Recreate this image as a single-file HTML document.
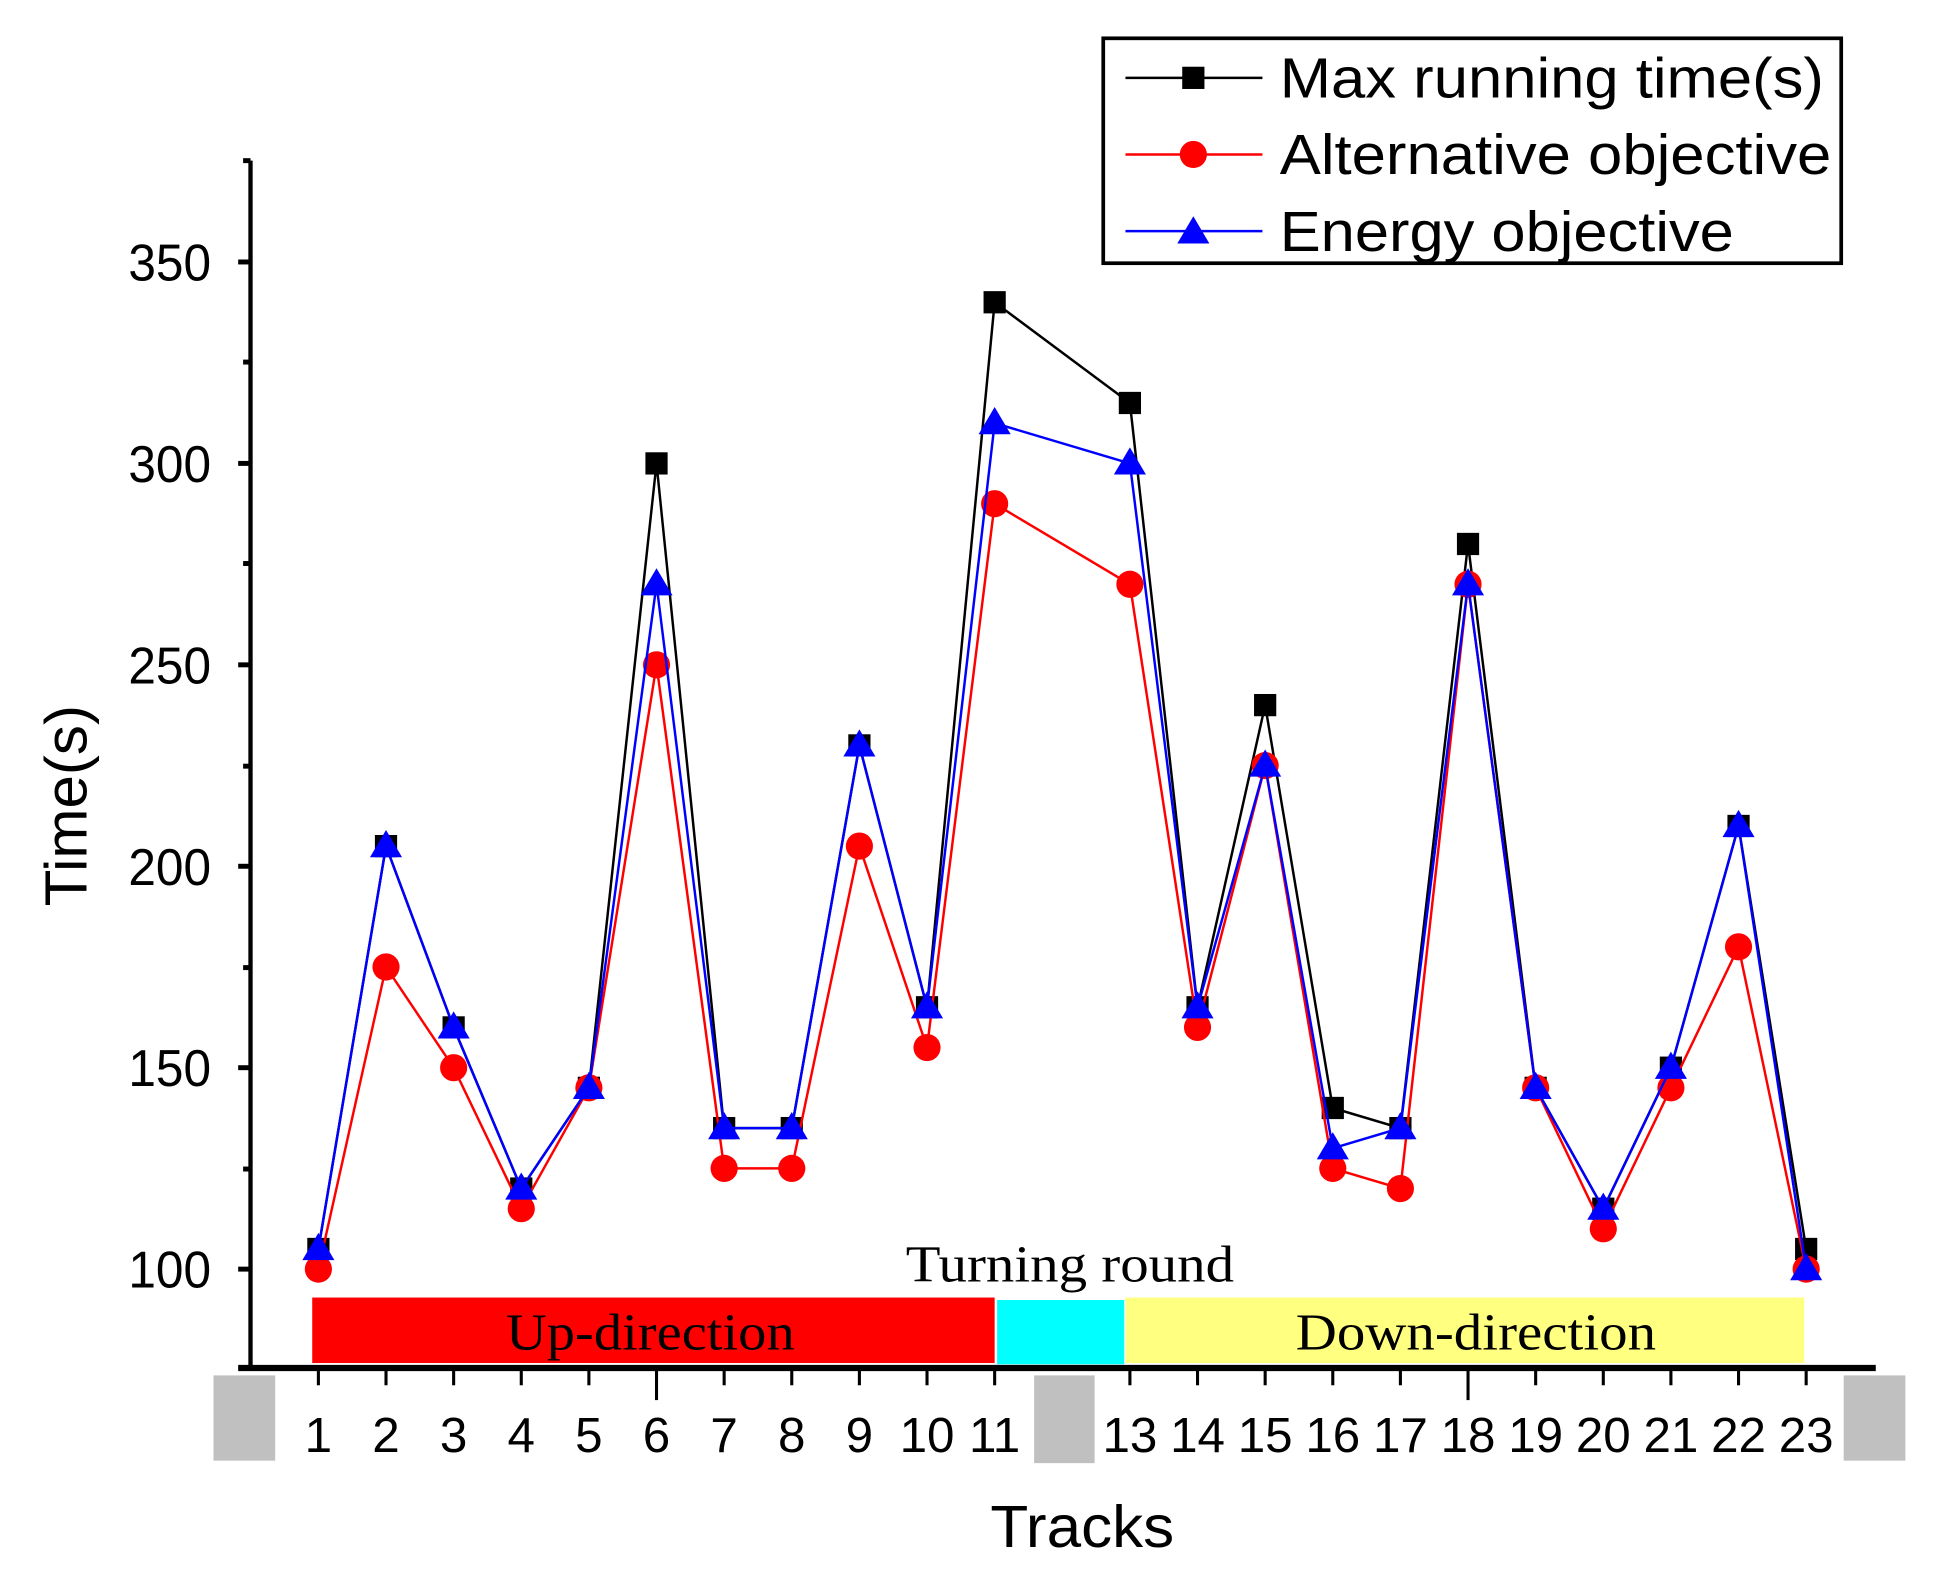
<!DOCTYPE html>
<html><head><meta charset="utf-8"><style>html,body{margin:0;padding:0;background:#fff}svg{display:block}</style></head>
<body>
<svg width="1935" height="1583" viewBox="0 0 1568 1281" preserveAspectRatio="none" xmlns="http://www.w3.org/2000/svg" font-family="Liberation Sans, sans-serif">
<rect width="1568" height="1281" fill="#fff"/>
<rect x="253" y="1050" width="553" height="53" fill="#ff0000"/>
<rect x="808" y="1052" width="103" height="52" fill="#00ffff"/>
<rect x="912" y="1050" width="550" height="53" fill="#ffff80"/>
<text x="527" y="1092" font-family="Liberation Serif, serif" font-size="42" text-anchor="middle" textLength="234" lengthAdjust="spacingAndGlyphs">Up-direction</text>
<text x="1196" y="1092" font-family="Liberation Serif, serif" font-size="42" text-anchor="middle" textLength="292" lengthAdjust="spacingAndGlyphs">Down-direction</text>
<text x="867" y="1037" font-family="Liberation Serif, serif" font-size="42" text-anchor="middle" textLength="266" lengthAdjust="spacingAndGlyphs">Turning round</text>
<rect x="173" y="1113" width="50" height="69" fill="#c0c0c0"/>
<rect x="838" y="1113" width="49" height="71" fill="#c0c0c0"/>
<rect x="1494" y="1113" width="50" height="69" fill="#c0c0c0"/>
<line x1="203" y1="130" x2="203" y2="1108" stroke="#000" stroke-width="3.5"/>
<line x1="193" y1="1107" x2="1520" y2="1107" stroke="#000" stroke-width="5"/>
<g stroke="#000" stroke-width="4">
<line x1="193" y1="212" x2="203" y2="212"/><line x1="193" y1="375" x2="203" y2="375"/><line x1="193" y1="538" x2="203" y2="538"/><line x1="193" y1="701" x2="203" y2="701"/><line x1="193" y1="864" x2="203" y2="864"/><line x1="193" y1="1027" x2="203" y2="1027"/>
<line x1="197" y1="130" x2="203" y2="130"/><line x1="197" y1="293" x2="203" y2="293"/><line x1="197" y1="456" x2="203" y2="456"/><line x1="197" y1="620" x2="203" y2="620"/><line x1="197" y1="783" x2="203" y2="783"/><line x1="197" y1="946" x2="203" y2="946"/>
</g>
<g font-size="42" text-anchor="end">
<text x="171" y="227" textLength="67" lengthAdjust="spacingAndGlyphs">350</text><text x="171" y="390" textLength="67" lengthAdjust="spacingAndGlyphs">300</text><text x="171" y="553" textLength="67" lengthAdjust="spacingAndGlyphs">250</text><text x="171" y="716" textLength="67" lengthAdjust="spacingAndGlyphs">200</text><text x="171" y="879" textLength="67" lengthAdjust="spacingAndGlyphs">150</text><text x="171" y="1042" textLength="67" lengthAdjust="spacingAndGlyphs">100</text>
</g>
<g id="xt" stroke="#000" stroke-width="2.5"></g>
<g id="xl" font-size="40" text-anchor="middle"></g>
<text transform="translate(70,652) rotate(-90)" font-size="48" text-anchor="middle" textLength="163" lengthAdjust="spacingAndGlyphs">Time(s)</text>
<text x="877" y="1252" font-size="48" text-anchor="middle" textLength="149" lengthAdjust="spacingAndGlyphs">Tracks</text>
<g id="series"></g>
<rect x="894" y="31" width="598" height="182" fill="#fff" stroke="#000" stroke-width="3"/>
<line x1="912" y1="63" x2="1023" y2="63" stroke="#000" stroke-width="2"/>
<rect x="958" y="54" width="18" height="18" fill="#000"/>
<line x1="912" y1="125" x2="1023" y2="125" stroke="#f00" stroke-width="2"/>
<circle cx="967" cy="125" r="11" fill="#f00"/>
<line x1="912" y1="187" x2="1023" y2="187" stroke="#00f" stroke-width="2"/>
<polygon points="967,175 954,197 980,197" fill="#00f"/>
<g font-size="46">
<text x="1037" y="79" textLength="441" lengthAdjust="spacingAndGlyphs">Max running time(s)</text>
<text x="1037" y="141" textLength="447" lengthAdjust="spacingAndGlyphs">Alternative objective</text>
<text x="1037" y="203" textLength="368" lengthAdjust="spacingAndGlyphs">Energy objective</text>
</g>
<script>
(function(){
var NS="http://www.w3.org/2000/svg";
function X(t){return 258+(t-1)*54.8;}
function Y(v){return 1027-(v-100)*3.26;}
var xt=document.getElementById('xt'),xl=document.getElementById('xl');
for(var t=1;t<=23;t++){if(t==12)continue;
var l=document.createElementNS(NS,'line');l.setAttribute('x1',X(t));l.setAttribute('x2',X(t));l.setAttribute('y1',1108);l.setAttribute('y2',(t==6||t==18)?1133:1121);xt.appendChild(l);
var tx=document.createElementNS(NS,'text');tx.setAttribute('x',X(t));tx.setAttribute('y',1175);tx.textContent=t;xl.appendChild(tx);}
var tr=[1,2,3,4,5,6,7,8,9,10,11,13,14,15,16,17,18,19,20,21,22,23];
var M=[105,205,160,120,145,300,135,135,230,165,340,315,165,240,140,135,280,145,115,150,210,105];
var A=[100,175,150,115,145,250,125,125,205,155,290,270,160,225,125,120,270,145,110,145,180,100];
var E=[105,205,160,120,145,270,135,135,230,165,310,300,165,225,130,135,270,145,115,150,210,100];
var g=document.getElementById('series');
function draw(d,c,m){var p=d.map(function(v,i){return X(tr[i])+','+Y(v);}).join(' ');
var pl=document.createElementNS(NS,'polyline');pl.setAttribute('points',p);pl.setAttribute('fill','none');pl.setAttribute('stroke',c);pl.setAttribute('stroke-width',2);g.appendChild(pl);
d.forEach(function(v,i){var x=X(tr[i]),y=Y(v),e;
if(m=='s'){e=document.createElementNS(NS,'rect');e.setAttribute('x',x-9);e.setAttribute('y',y-9);e.setAttribute('width',18);e.setAttribute('height',18);}
else if(m=='c'){e=document.createElementNS(NS,'circle');e.setAttribute('cx',x);e.setAttribute('cy',y);e.setAttribute('r',11);}
else{e=document.createElementNS(NS,'polygon');e.setAttribute('points',x+','+(y-13)+' '+(x-13)+','+(y+9)+' '+(x+13)+','+(y+9));}
e.setAttribute('fill',c);g.appendChild(e);});}
draw(M,'#000','s');draw(A,'#f00','c');draw(E,'#00f','t');
})();
</script>
</svg>
</body></html>
